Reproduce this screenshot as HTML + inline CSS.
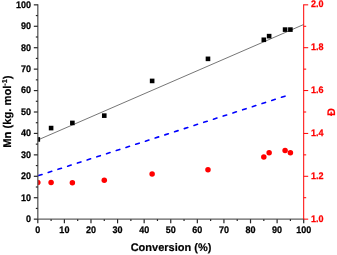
<!DOCTYPE html>
<html><head><meta charset="utf-8"><style>
html,body{margin:0;padding:0;background:#fff;width:337px;height:255px;overflow:hidden}
svg{display:block;will-change:transform}
text{text-rendering:geometricPrecision}
.t{font-family:"Liberation Sans",sans-serif;font-weight:bold;font-size:9.5px;fill:#000;stroke:#000;stroke-width:0.25px}
.ti{font-family:"Liberation Sans",sans-serif;font-weight:bold;font-size:11px;fill:#000;stroke:#000;stroke-width:0.2px}
.r{fill:#ff0000;stroke:#ff0000}
.t.r{stroke:#ff0000}
</style></head><body>
<svg width="337" height="255" viewBox="0 0 337 255">
<defs><clipPath id="cp"><rect x="37.8" y="3" width="265.9" height="216.15"/></clipPath></defs>
<g clip-path="url(#cp)">
<line x1="37.8" y1="140.0" x2="303.7" y2="24.5" stroke="#666" stroke-width="0.9"/>
<line x1="37.8" y1="175.84000000000003" x2="290.405" y2="94.40600000000002" stroke="#0000ff" stroke-width="1.6" stroke-dasharray="3.7 6.51" stroke-dashoffset="-0.75" stroke-linecap="round"/>
<rect x="35.50" y="137.13" width="4.6" height="4.6" fill="#000"/>
<rect x="48.80" y="125.77" width="4.6" height="4.6" fill="#000"/>
<rect x="70.07" y="120.63" width="4.6" height="4.6" fill="#000"/>
<rect x="101.97" y="113.34" width="4.6" height="4.6" fill="#000"/>
<rect x="149.84" y="78.63" width="4.6" height="4.6" fill="#000"/>
<rect x="205.68" y="56.55" width="4.6" height="4.6" fill="#000"/>
<rect x="261.51" y="37.48" width="4.6" height="4.6" fill="#000"/>
<rect x="266.83" y="33.84" width="4.6" height="4.6" fill="#000"/>
<rect x="282.79" y="27.30" width="4.6" height="4.6" fill="#000"/>
<rect x="288.10" y="27.30" width="4.6" height="4.6" fill="#000"/>
<circle cx="37.80" cy="182.50" r="2.75" fill="#ff0000"/>
<circle cx="51.09" cy="182.50" r="2.75" fill="#ff0000"/>
<circle cx="72.37" cy="182.72" r="2.75" fill="#ff0000"/>
<circle cx="104.27" cy="180.36" r="2.75" fill="#ff0000"/>
<circle cx="152.14" cy="173.93" r="2.75" fill="#ff0000"/>
<circle cx="207.98" cy="169.65" r="2.75" fill="#ff0000"/>
<circle cx="263.81" cy="157.00" r="2.75" fill="#ff0000"/>
<circle cx="269.13" cy="152.72" r="2.75" fill="#ff0000"/>
<circle cx="285.09" cy="150.57" r="2.75" fill="#ff0000"/>
<circle cx="290.40" cy="152.72" r="2.75" fill="#ff0000"/>
</g>
<line x1="37.8" y1="4.150000000000023" x2="37.8" y2="219.95000000000002" stroke="#606060" stroke-width="1.35"/>
<line x1="33.825" y1="219.15" x2="37.8" y2="219.15" stroke="#262626" stroke-width="1.2"/>
<text transform="translate(31,222.05) scale(0.95,1)" text-anchor="end" class="t">0</text>
<line x1="35.825" y1="208.435" x2="37.8" y2="208.435" stroke="#262626" stroke-width="1.2"/>
<line x1="33.825" y1="197.72" x2="37.8" y2="197.72" stroke="#262626" stroke-width="1.2"/>
<text transform="translate(31,200.62) scale(0.95,1)" text-anchor="end" class="t">10</text>
<line x1="35.825" y1="187.005" x2="37.8" y2="187.005" stroke="#262626" stroke-width="1.2"/>
<line x1="33.825" y1="176.29000000000002" x2="37.8" y2="176.29000000000002" stroke="#262626" stroke-width="1.2"/>
<text transform="translate(31,179.19) scale(0.95,1)" text-anchor="end" class="t">20</text>
<line x1="35.825" y1="165.57500000000002" x2="37.8" y2="165.57500000000002" stroke="#262626" stroke-width="1.2"/>
<line x1="33.825" y1="154.86" x2="37.8" y2="154.86" stroke="#262626" stroke-width="1.2"/>
<text transform="translate(31,157.76) scale(0.95,1)" text-anchor="end" class="t">30</text>
<line x1="35.825" y1="144.145" x2="37.8" y2="144.145" stroke="#262626" stroke-width="1.2"/>
<line x1="33.825" y1="133.43" x2="37.8" y2="133.43" stroke="#262626" stroke-width="1.2"/>
<text transform="translate(31,136.33) scale(0.95,1)" text-anchor="end" class="t">40</text>
<line x1="35.825" y1="122.71500000000002" x2="37.8" y2="122.71500000000002" stroke="#262626" stroke-width="1.2"/>
<line x1="33.825" y1="112.00000000000001" x2="37.8" y2="112.00000000000001" stroke="#262626" stroke-width="1.2"/>
<text transform="translate(31,114.90) scale(0.95,1)" text-anchor="end" class="t">50</text>
<line x1="35.825" y1="101.28500000000001" x2="37.8" y2="101.28500000000001" stroke="#262626" stroke-width="1.2"/>
<line x1="33.825" y1="90.57000000000002" x2="37.8" y2="90.57000000000002" stroke="#262626" stroke-width="1.2"/>
<text transform="translate(31,93.47) scale(0.95,1)" text-anchor="end" class="t">60</text>
<line x1="35.825" y1="79.85500000000002" x2="37.8" y2="79.85500000000002" stroke="#262626" stroke-width="1.2"/>
<line x1="33.825" y1="69.14000000000001" x2="37.8" y2="69.14000000000001" stroke="#262626" stroke-width="1.2"/>
<text transform="translate(31,72.04) scale(0.95,1)" text-anchor="end" class="t">70</text>
<line x1="35.825" y1="58.42500000000001" x2="37.8" y2="58.42500000000001" stroke="#262626" stroke-width="1.2"/>
<line x1="33.825" y1="47.71000000000001" x2="37.8" y2="47.71000000000001" stroke="#262626" stroke-width="1.2"/>
<text transform="translate(31,50.61) scale(0.95,1)" text-anchor="end" class="t">80</text>
<line x1="35.825" y1="36.99500000000003" x2="37.8" y2="36.99500000000003" stroke="#262626" stroke-width="1.2"/>
<line x1="33.825" y1="26.28000000000003" x2="37.8" y2="26.28000000000003" stroke="#262626" stroke-width="1.2"/>
<text transform="translate(31,29.18) scale(0.95,1)" text-anchor="end" class="t">90</text>
<line x1="35.825" y1="15.565000000000026" x2="37.8" y2="15.565000000000026" stroke="#262626" stroke-width="1.2"/>
<line x1="33.825" y1="4.850000000000023" x2="37.8" y2="4.850000000000023" stroke="#262626" stroke-width="1.2"/>
<text transform="translate(31,7.75) scale(0.95,1)" text-anchor="end" class="t">100</text>
<line x1="37.0" y1="219.15" x2="304.2" y2="219.15" stroke="#606060" stroke-width="1.35"/>
<line x1="37.8" y1="219.15" x2="37.8" y2="223.32500000000002" stroke="#262626" stroke-width="1.2"/>
<text transform="translate(37.80,232.6) scale(0.95,1)" text-anchor="middle" class="t">0</text>
<line x1="51.095" y1="219.15" x2="51.095" y2="221.025" stroke="#262626" stroke-width="1.2"/>
<line x1="64.38999999999999" y1="219.15" x2="64.38999999999999" y2="223.32500000000002" stroke="#262626" stroke-width="1.2"/>
<text transform="translate(64.39,232.6) scale(0.95,1)" text-anchor="middle" class="t">10</text>
<line x1="77.685" y1="219.15" x2="77.685" y2="221.025" stroke="#262626" stroke-width="1.2"/>
<line x1="90.97999999999999" y1="219.15" x2="90.97999999999999" y2="223.32500000000002" stroke="#262626" stroke-width="1.2"/>
<text transform="translate(90.98,232.6) scale(0.95,1)" text-anchor="middle" class="t">20</text>
<line x1="104.27499999999999" y1="219.15" x2="104.27499999999999" y2="221.025" stroke="#262626" stroke-width="1.2"/>
<line x1="117.57" y1="219.15" x2="117.57" y2="223.32500000000002" stroke="#262626" stroke-width="1.2"/>
<text transform="translate(117.57,232.6) scale(0.95,1)" text-anchor="middle" class="t">30</text>
<line x1="130.865" y1="219.15" x2="130.865" y2="221.025" stroke="#262626" stroke-width="1.2"/>
<line x1="144.15999999999997" y1="219.15" x2="144.15999999999997" y2="223.32500000000002" stroke="#262626" stroke-width="1.2"/>
<text transform="translate(144.16,232.6) scale(0.95,1)" text-anchor="middle" class="t">40</text>
<line x1="157.45499999999998" y1="219.15" x2="157.45499999999998" y2="221.025" stroke="#262626" stroke-width="1.2"/>
<line x1="170.75" y1="219.15" x2="170.75" y2="223.32500000000002" stroke="#262626" stroke-width="1.2"/>
<text transform="translate(170.75,232.6) scale(0.95,1)" text-anchor="middle" class="t">50</text>
<line x1="184.04499999999996" y1="219.15" x2="184.04499999999996" y2="221.025" stroke="#262626" stroke-width="1.2"/>
<line x1="197.33999999999997" y1="219.15" x2="197.33999999999997" y2="223.32500000000002" stroke="#262626" stroke-width="1.2"/>
<text transform="translate(197.34,232.6) scale(0.95,1)" text-anchor="middle" class="t">60</text>
<line x1="210.635" y1="219.15" x2="210.635" y2="221.025" stroke="#262626" stroke-width="1.2"/>
<line x1="223.93" y1="219.15" x2="223.93" y2="223.32500000000002" stroke="#262626" stroke-width="1.2"/>
<text transform="translate(223.93,232.6) scale(0.95,1)" text-anchor="middle" class="t">70</text>
<line x1="237.22499999999997" y1="219.15" x2="237.22499999999997" y2="221.025" stroke="#262626" stroke-width="1.2"/>
<line x1="250.51999999999998" y1="219.15" x2="250.51999999999998" y2="223.32500000000002" stroke="#262626" stroke-width="1.2"/>
<text transform="translate(250.52,232.6) scale(0.95,1)" text-anchor="middle" class="t">80</text>
<line x1="263.815" y1="219.15" x2="263.815" y2="221.025" stroke="#262626" stroke-width="1.2"/>
<line x1="277.10999999999996" y1="219.15" x2="277.10999999999996" y2="223.32500000000002" stroke="#262626" stroke-width="1.2"/>
<text transform="translate(277.11,232.6) scale(0.95,1)" text-anchor="middle" class="t">90</text>
<line x1="290.405" y1="219.15" x2="290.405" y2="221.025" stroke="#262626" stroke-width="1.2"/>
<line x1="303.7" y1="219.15" x2="303.7" y2="223.32500000000002" stroke="#262626" stroke-width="1.2"/>
<text transform="translate(303.70,232.6) scale(0.95,1)" text-anchor="middle" class="t">100</text>
<line x1="303.7" y1="4.349999999999994" x2="303.7" y2="219.15" stroke="#ff0000" stroke-width="1"/>
<line x1="303.7" y1="219.15" x2="308.2" y2="219.15" stroke="#ff0000" stroke-width="1"/>
<text transform="translate(311,221.75) scale(0.95,1)" class="t r">1.0</text>
<line x1="303.7" y1="197.71999999999997" x2="306.2" y2="197.71999999999997" stroke="#ff0000" stroke-width="1"/>
<line x1="303.7" y1="176.29000000000002" x2="308.2" y2="176.29000000000002" stroke="#ff0000" stroke-width="1"/>
<text transform="translate(311,178.89) scale(0.95,1)" class="t r">1.2</text>
<line x1="303.7" y1="154.86" x2="306.2" y2="154.86" stroke="#ff0000" stroke-width="1"/>
<line x1="303.7" y1="133.43" x2="308.2" y2="133.43" stroke="#ff0000" stroke-width="1"/>
<text transform="translate(311,136.03) scale(0.95,1)" class="t r">1.4</text>
<line x1="303.7" y1="112.0" x2="306.2" y2="112.0" stroke="#ff0000" stroke-width="1"/>
<line x1="303.7" y1="90.57" x2="308.2" y2="90.57" stroke="#ff0000" stroke-width="1"/>
<text transform="translate(311,93.17) scale(0.95,1)" class="t r">1.6</text>
<line x1="303.7" y1="69.13999999999996" x2="306.2" y2="69.13999999999996" stroke="#ff0000" stroke-width="1"/>
<line x1="303.7" y1="47.70999999999998" x2="308.2" y2="47.70999999999998" stroke="#ff0000" stroke-width="1"/>
<text transform="translate(311,50.31) scale(0.95,1)" class="t r">1.8</text>
<line x1="303.7" y1="26.28" x2="306.2" y2="26.28" stroke="#ff0000" stroke-width="1"/>
<line x1="303.7" y1="4.849999999999994" x2="308.2" y2="4.849999999999994" stroke="#ff0000" stroke-width="1"/>
<text transform="translate(311,7.45) scale(0.95,1)" class="t r">2.0</text>
<text x="171" y="251.3" text-anchor="middle" class="ti">Conversion (%)</text>
<text transform="translate(11.0,147.8) rotate(-90)" class="ti" style="font-size:11.2px">Mn (kg. mol<tspan dy="-4.5" style="font-size:7.2px">-1</tspan><tspan dy="4.5">)</tspan></text>
<text transform="translate(335.2,112) rotate(-90)" text-anchor="middle" class="ti r">Đ</text>
</svg>
</body></html>
